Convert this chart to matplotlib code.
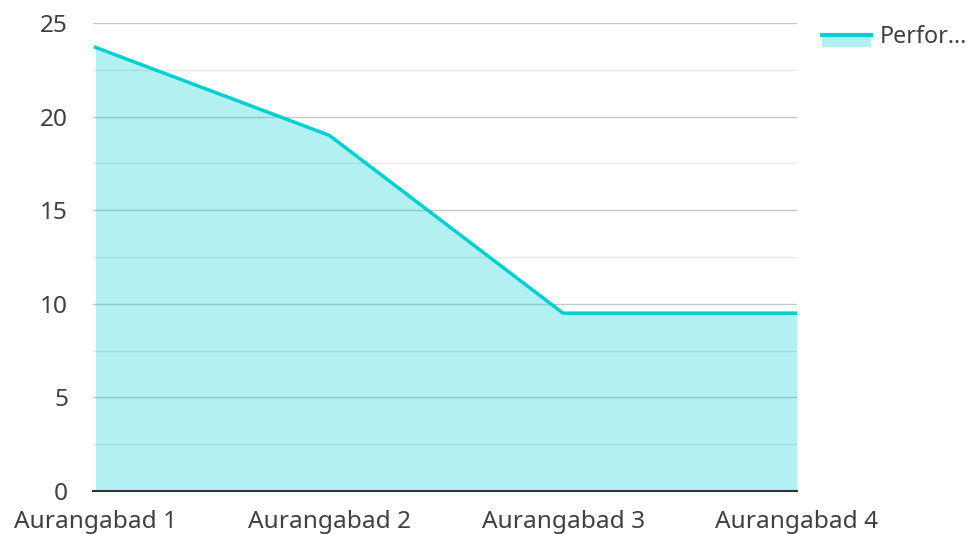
import matplotlib.pyplot as plt
from matplotlib.patches import Rectangle
from matplotlib.lines import Line2D

# data
categories = ["Aurangabad 1", "Aurangabad 2", "Aurangabad 3", "Aurangabad 4"]
performance = [23.7, 19.0, 9.5, 9.5]
series_name = "Perfor..."

line_color = "#00cfd1"
fill_alpha = 0.3
text_color = "#404040"
fs = 17.6

plt.rcParams['font.family'] = ['Noto Sans', 'DejaVu Sans']

fig = plt.figure(figsize=(9.7, 5.34), dpi=100)
ax = fig.add_axes([0.0959, 0.0805, 0.7257, 0.8765])

x = list(range(len(categories)))
ax.fill_between(x, performance, 0, color=line_color, alpha=fill_alpha, linewidth=0, zorder=3)
ax.plot(x, performance, color=line_color, linewidth=2.5, zorder=4)

ax.set_xlim(-0.01, 3.0)
ax.set_ylim(0, 25)

# grid: major every 5, minor every 2.5 (under the translucent fill)
for v in [5, 10, 15, 20, 25]:
    ax.axhline(v, color="#c8c8c8", linewidth=1, zorder=1)
for v in [2.5, 7.5, 12.5, 17.5, 22.5]:
    ax.axhline(v, color="#e8e8e8", linewidth=1, zorder=1)

ax.set_yticks([0, 5, 10, 15, 20, 25])
ax.set_xticks(x)
ax.set_xticklabels(categories)
ax.tick_params(axis='y', length=0, pad=18, labelsize=fs, labelcolor=text_color)
ax.tick_params(axis='x', length=0, pad=14, labelsize=fs, labelcolor=text_color)

for s in ['top', 'right', 'left']:
    ax.spines[s].set_visible(False)
ax.spines['bottom'].set_color("#333333")
ax.spines['bottom'].set_linewidth(1.5)
ax.spines['bottom'].set_zorder(5)

# legend drawn in figure coordinates
W, H = 970, 534
fig.add_artist(Rectangle((822 / W, 1 - 47 / H), 49 / W, 12 / H, transform=fig.transFigure,
                         color=line_color, alpha=fill_alpha, linewidth=0))
fig.add_artist(Line2D([822 / W, 871 / W], [1 - 35 / H, 1 - 35 / H],
                      transform=fig.transFigure, color=line_color, linewidth=3))
fig.text(880 / W, 1 - 37 / H, series_name, fontsize=16.8, color=text_color,
         va='center', ha='left')

fig.savefig("out.png", dpi=100)
